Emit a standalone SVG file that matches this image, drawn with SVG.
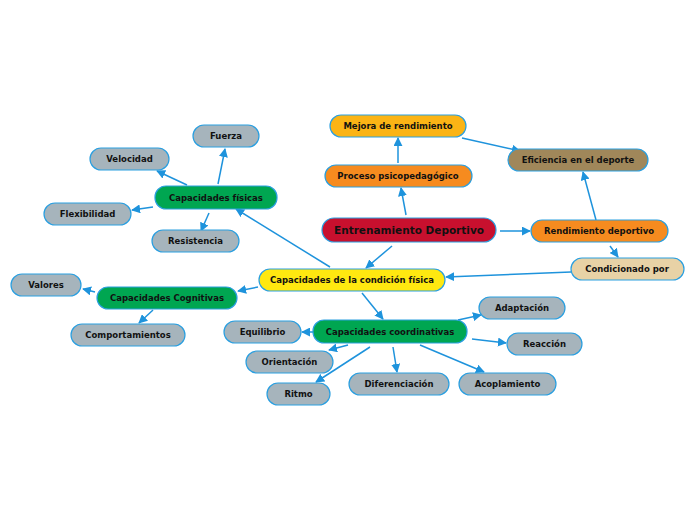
<svg xmlns="http://www.w3.org/2000/svg" width="696" height="520" viewBox="0 0 696 520">
<defs>
<marker id="a" viewBox="0 0 10 10" refX="9" refY="5" markerWidth="9" markerHeight="9" markerUnits="userSpaceOnUse" orient="auto"><path d="M0,0L10,5L0,10z" fill="#1e93dc"/></marker>
<style>
.n rect{stroke:#2a9fe0;stroke-width:1.2}
.n text{font-family:"DejaVu Sans",sans-serif;font-weight:bold;font-size:8.5px;fill:#111;text-anchor:middle;dominant-baseline:central}
#c line{stroke:#1e93dc;stroke-width:1.5;marker-end:url(#a)}
.g{fill:#a6b4bc}.gr{fill:#00a651}.o{fill:#f68b1f}
</style>
</defs>
<rect width="696" height="520" fill="#fff"/>
<g id="c">
<line x1="398" y1="163" x2="398" y2="138"/>
<line x1="406" y1="215" x2="401" y2="188"/>
<line x1="462" y1="138" x2="520" y2="151"/>
<line x1="596" y1="220" x2="583" y2="172"/>
<line x1="500" y1="231" x2="530" y2="231"/>
<line x1="610" y1="246" x2="618" y2="257"/>
<line x1="571" y1="272" x2="446" y2="277"/>
<line x1="392" y1="246" x2="366" y2="268"/>
<line x1="330" y1="267" x2="236" y2="209"/>
<line x1="258" y1="287" x2="238" y2="291"/>
<line x1="362" y1="293" x2="383" y2="319"/>
<line x1="218" y1="184" x2="225" y2="149"/>
<line x1="187" y1="185" x2="157" y2="171"/>
<line x1="153" y1="207" x2="132" y2="210"/>
<line x1="209" y1="213" x2="201" y2="231"/>
<line x1="95" y1="292" x2="83" y2="289"/>
<line x1="153" y1="310" x2="139" y2="323"/>
<line x1="313" y1="332" x2="302" y2="332"/>
<line x1="348" y1="345" x2="329" y2="350"/>
<line x1="370" y1="347" x2="316" y2="382"/>
<line x1="393" y1="347" x2="397" y2="372"/>
<line x1="420" y1="345" x2="484" y2="372"/>
<line x1="458" y1="320" x2="481" y2="315"/>
<line x1="472" y1="339" x2="506" y2="343"/>
</g>
<g id="mejora" class="n"><rect x="330" y="115" width="136" height="22" rx="11" fill="#fbb415"/><text x="398" y="126">Mejora de rendimiento</text></g>
<g id="proceso" class="n"><rect x="325" y="165" width="147" height="22" rx="11" class="o"/><text x="398" y="176">Proceso psicopedagógico</text></g>
<g id="eficiencia" class="n"><rect x="508" y="149" width="140" height="22" rx="11" fill="#a0875a"/><text x="578" y="160">Eficiencia en el deporte</text></g>
<g id="entrenamiento" class="n"><rect x="322" y="218" width="174" height="24" rx="12" fill="#c8102e"/><text x="409" y="230" style="font-size:10.5px">Entrenamiento Deportivo</text></g>
<g id="rendimiento" class="n"><rect x="531" y="220" width="137" height="22" rx="11" class="o"/><text x="599" y="231">Rendimiento deportivo</text></g>
<g id="condicionado" class="n"><rect x="571" y="258" width="113" height="22" rx="11" fill="#e8d2a6"/><text x="627" y="269">Condicionado por</text></g>
<g id="capcond" class="n"><rect x="259" y="269" width="186" height="22" rx="11" fill="#ffe810"/><text x="352" y="280">Capacidades de la condición física</text></g>
<g id="capfis" class="n"><rect x="155" y="186" width="122" height="23" rx="11" class="gr"/><text x="216" y="197.5">Capacidades físicas</text></g>
<g id="fuerza" class="n"><rect x="193" y="125" width="66" height="22" rx="11" class="g"/><text x="226" y="136">Fuerza</text></g>
<g id="velocidad" class="n"><rect x="90" y="148" width="79" height="22" rx="11" class="g"/><text x="129.5" y="159">Velocidad</text></g>
<g id="flexibilidad" class="n"><rect x="44" y="203" width="87" height="22" rx="11" class="g"/><text x="87.5" y="214">Flexibilidad</text></g>
<g id="resistencia" class="n"><rect x="152" y="230" width="87" height="22" rx="11" class="g"/><text x="195.5" y="241">Resistencia</text></g>
<g id="capcog" class="n"><rect x="97" y="287" width="140" height="22" rx="11" class="gr"/><text x="167" y="298">Capacidades Cognitivas</text></g>
<g id="valores" class="n"><rect x="11" y="274" width="70" height="22" rx="11" class="g"/><text x="46" y="285">Valores</text></g>
<g id="comport" class="n"><rect x="71" y="324" width="114" height="22" rx="11" class="g"/><text x="128" y="335">Comportamientos</text></g>
<g id="capcoord" class="n"><rect x="313" y="320" width="154" height="23" rx="11" class="gr"/><text x="390" y="331.5">Capacidades coordinativas</text></g>
<g id="equilibrio" class="n"><rect x="224" y="321" width="77" height="22" rx="11" class="g"/><text x="262.5" y="332">Equilibrio</text></g>
<g id="orientacion" class="n"><rect x="246" y="351" width="87" height="22" rx="11" class="g"/><text x="289.5" y="362">Orientación</text></g>
<g id="ritmo" class="n"><rect x="267" y="383" width="63" height="22" rx="11" class="g"/><text x="298.5" y="394">Ritmo</text></g>
<g id="diferenciacion" class="n"><rect x="349" y="373" width="100" height="22" rx="11" class="g"/><text x="399" y="384">Diferenciación</text></g>
<g id="acoplamiento" class="n"><rect x="459" y="373" width="97" height="22" rx="11" class="g"/><text x="507.5" y="384">Acoplamiento</text></g>
<g id="adaptacion" class="n"><rect x="479" y="297" width="86" height="22" rx="11" class="g"/><text x="522" y="308">Adaptación</text></g>
<g id="reaccion" class="n"><rect x="507" y="333" width="75" height="22" rx="11" class="g"/><text x="544.5" y="344">Reacción</text></g>
</svg>
